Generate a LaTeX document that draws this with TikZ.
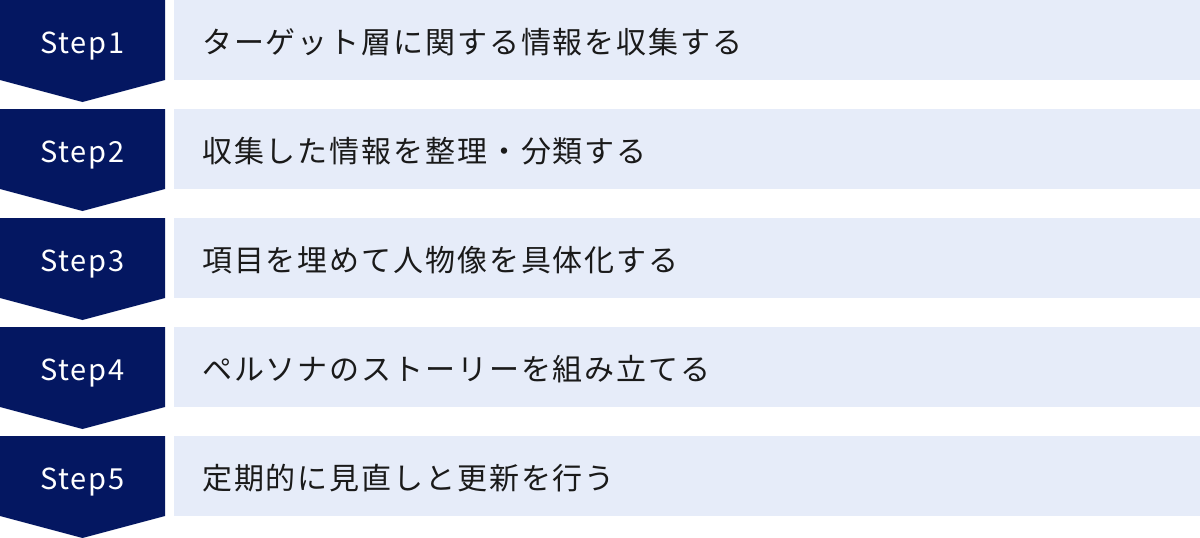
\documentclass[tikz,border=0pt]{standalone}
\usepackage{fontspec}
\setmainfont{Noto Sans CJK JP}
\newfontfamily\stepfont[LetterSpace=6]{Noto Sans CJK JP}
\newfontfamily\rowfont[LetterSpace=6.3]{Noto Sans CJK JP}
\usepackage{tikz}
\definecolor{stepNavy}{RGB}{4,23,97}
\definecolor{rowBlue}{RGB}{230,236,249}
\definecolor{rowText}{RGB}{26,26,26}

\begin{document}
\begin{tikzpicture}
[x=1pt,y=-1pt,
  stepDecorate/.style={fill=stepNavy,draw=none},
  rowDecorate/.style={shape=rectangle,fill=rowBlue,draw=none,inner sep=0pt,
    minimum width=1026pt,minimum height=80pt,anchor=north west},
  stepLabel/.style={text=white,anchor=base,inner sep=0pt,
    font=\stepfont\fontsize{29}{30}\selectfont},
  rowLabel/.style={text=rowText,anchor=base west,inner sep=0pt,
    font=\rowfont\fontsize{30}{32}\selectfont}]
\useasboundingbox (0,0) rectangle (1200,538);
%% step arrows and rows
\foreach \n/\y/\txt in {
  1/0/ターゲット層に関する情報を収集する,
  2/109/収集した情報を整理・分類する,
  3/218/項目を埋めて人物像を具体化する,
  4/327/ペルソナのストーリーを組み立てる,
  5/436/定期的に見直しと更新を行う}
{
  \path[stepDecorate] (0,\y) -- (165,\y) -- (165,\y+80)
    -- (82.5,\y+102) -- (0,\y+80) -- cycle;
  \node (step\n) at (82.5,\y+53) [stepLabel] {Step\n};
  \node (row\n) at (174,\y) [rowDecorate] {};
  \node (text\n) at (202,\y+53) [rowLabel] {\txt};
}
\end{tikzpicture}
\end{document}
